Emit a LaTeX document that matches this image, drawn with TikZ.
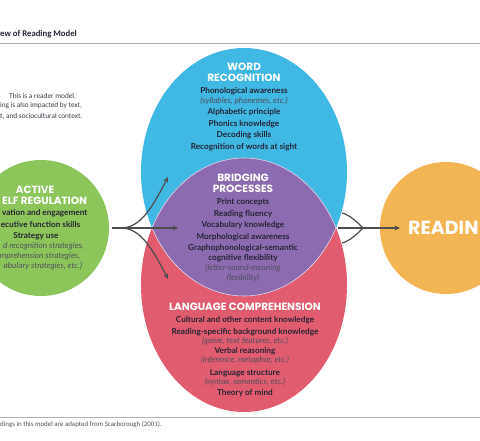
\documentclass[tikz,border=0pt]{standalone}
\usepackage{fontspec}
\setmainfont{Lato}
\newfontfamily\headfont{Poppins}
\newfontfamily\notefont{Carlito}
\usetikzlibrary{arrows.meta, positioning, shapes.geometric, calc}

\definecolor{wordblue}{HTML}{3FB8E4}
\definecolor{bridgepurple}{HTML}{8C6BB1}
\definecolor{langred}{HTML}{E15C6F}
\definecolor{selfgreen}{HTML}{8CC65A}
\definecolor{readorange}{HTML}{F3B553}
\definecolor{inktext}{HTML}{262433}
\definecolor{arrowgray}{HTML}{4D4D4D}
\definecolor{rulegray}{HTML}{B4B4B4}

\newcommand\detail[1]{{\mdseries\itshape\color{inktext!80}#1}}

\begin{document}
\begin{tikzpicture}[
    x=1pt, y=-1pt, >={Stealth[length=5.5pt,width=5pt]},
    blob/.style={ellipse, inner sep=0pt, outer sep=0pt, draw=none},
    heading/.style={font=\headfont\bfseries\fontsize{10.5}{11}\selectfont,
                    text=white, align=center, inner sep=0pt, anchor=north},
    items/.style={font=\bfseries\fontsize{8.2}{11.5}\selectfont,
                  text=inktext, align=center, inner sep=0pt, anchor=north},
    noteline/.style={anchor=west, inner sep=0pt, text=inktext!90,
                     font=\notefont\fontsize{7.3}{10}\selectfont},
    link/.style={->, draw=arrowgray, line width=1.2pt},
    stem/.style={draw=arrowgray, line width=1.2pt},
    rule/.style={draw=rulegray, line width=0.8pt}
  ]
  \clip (0,0) rectangle (480,440);
  \fill[white] (0,0) rectangle (480,440);

  % header and footer
  \node[anchor=west, inner sep=0pt, text=inktext,
        font=\notefont\bfseries\fontsize{8.7}{10}\selectfont] (title) at (0,34)
    {ew of Reading Model};
  \draw[rule] (0,43) -- (480,43);
  \node[noteline] (note1) at (9,96) {This is a reader model.};
  \node[noteline] (note2) at (0,106) {ing is also impacted by text,};
  \node[noteline] (note3) at (0,116) {t, and sociocultural context.};
  \draw[rule] (0,417) -- (480,417);
  \node[anchor=west, inner sep=0pt, text=inktext!80,
        font=\notefont\fontsize{6.9}{8}\selectfont] (source) at (0,425)
    {dings in this model are adapted from Scarborough (2001).};

  % circles
  \node[blob, fill=selfgreen, minimum width=136, minimum height=136] (selfreg) at (41,228) {};
  \node[blob, fill=readorange, minimum width=132, minimum height=132] (reading) at (446,228) {};
  \node[blob, fill=wordblue, minimum width=206, minimum height=248] (word) at (244,172) {};
  \node[blob, fill=langred, minimum width=206, minimum height=254] (lang) at (244,285) {};

  % overlap of the two ellipses
  \begin{scope}
    \clip (word.center) ellipse [x radius=103, y radius=124];
    \fill[bridgepurple] (lang.center) ellipse [x radius=103, y radius=127];
    \draw[white!75!bridgepurple, line width=0.6pt] (lang.center) ellipse [x radius=103, y radius=127];
  \end{scope}
  \begin{scope}
    \clip (lang.center) ellipse [x radius=103, y radius=127];
    \draw[white!75!bridgepurple, line width=0.6pt] (word.center) ellipse [x radius=103, y radius=124];
  \end{scope}

  % texts
  \node[heading] (wordhead) at (244,63) {WORD\\RECOGNITION};
  \node[items] (worditems) at (244,87.5)
    {Phonological awareness\\[-2pt]
     \detail{(syllables, phonemes, etc.)}\\
     Alphabetic principle\\
     Phonics knowledge\\
     Decoding skills\\
     Recognition of words at sight};

  \node[heading] (bridgehead) at (243,174) {BRIDGING\\PROCESSES};
  \node[items] (bridgeitems) at (243,198.5)
    {Print concepts\\
     Reading fluency\\
     Vocabulary knowledge\\
     Morphological awareness\\
     Graphophonological-semantic\\[-1.5pt]
     cognitive flexibility\\[-1.5pt]
     \detail{(letter-sound-meaning}\\[-1.5pt]
     \detail{flexibility)}};

  \node[heading] (langhead) at (245,303) {LANGUAGE COMPREHENSION};
  \node[items] (langitems) at (245,316.5)
    {Cultural and other content knowledge\\
     Reading-specific background knowledge\\[-2.5pt]
     \detail{(genre, text features, etc.)}\\[-1.5pt]
     Verbal reasoning\\[-2.5pt]
     \detail{(inference, metaphor, etc.)}\\[1.5pt]
     Language structure\\[-2.5pt]
     \detail{(syntax, semantics, etc.)}\\[-0.5pt]
     Theory of mind};

  \node[heading] (selfhead) at (35,186) {ACTIVE};
  \node[heading, anchor=north west] (selfhead2) at (2,197) {ELF REGULATION};
  \node[items] (selfitems) at (36,209.5)
    {\hphantom{Moti}vation and engagement\\
     \hphantom{Ex}ecutive function skills\\
     Strategy use\\[-1.5pt]
     \detail{\hphantom{(wor}d recognition strategies,}\\[-1.5pt]
     \detail{\hphantom{co}mprehension strategies,}\\[-1.5pt]
     \detail{\hphantom{(voc}abulary strategies, etc.)}};

  \node[anchor=west, inner sep=0pt, text=white,
        font=\headfont\bfseries\fontsize{19}{20}\selectfont] (readlabel) at (408,228) {READIN};

  % arrows from self regulation
  \coordinate (forkL) at (121,228);
  \coordinate (tipUp) at (168,177);
  \coordinate (tipMid) at (178,228);
  \coordinate (tipDown) at (168,279);
  \draw[stem] ([xshift=3pt]selfreg.east) -- (forkL);
  \draw[link] (forkL) -- (tipMid);
  \draw[link] (forkL) .. controls (141,228) and (153,206) .. (tipUp);
  \draw[link] (forkL) .. controls (141,228) and (153,250) .. (tipDown);

  % arrows into reading
  \coordinate (edgeUp) at (342,213);
  \coordinate (edgeDown) at (342,243);
  \coordinate (joinR) at (363,228);
  \coordinate (lensR) at (338,228);
  \coordinate (tipR) at (400,228);
  \draw[stem] (edgeUp) .. controls (350,215) and (357,222) .. (joinR);
  \draw[stem] (edgeDown) .. controls (350,241) and (357,234) .. (joinR);
  \draw[link] (lensR) -- (tipR);
\end{tikzpicture}
\end{document}
